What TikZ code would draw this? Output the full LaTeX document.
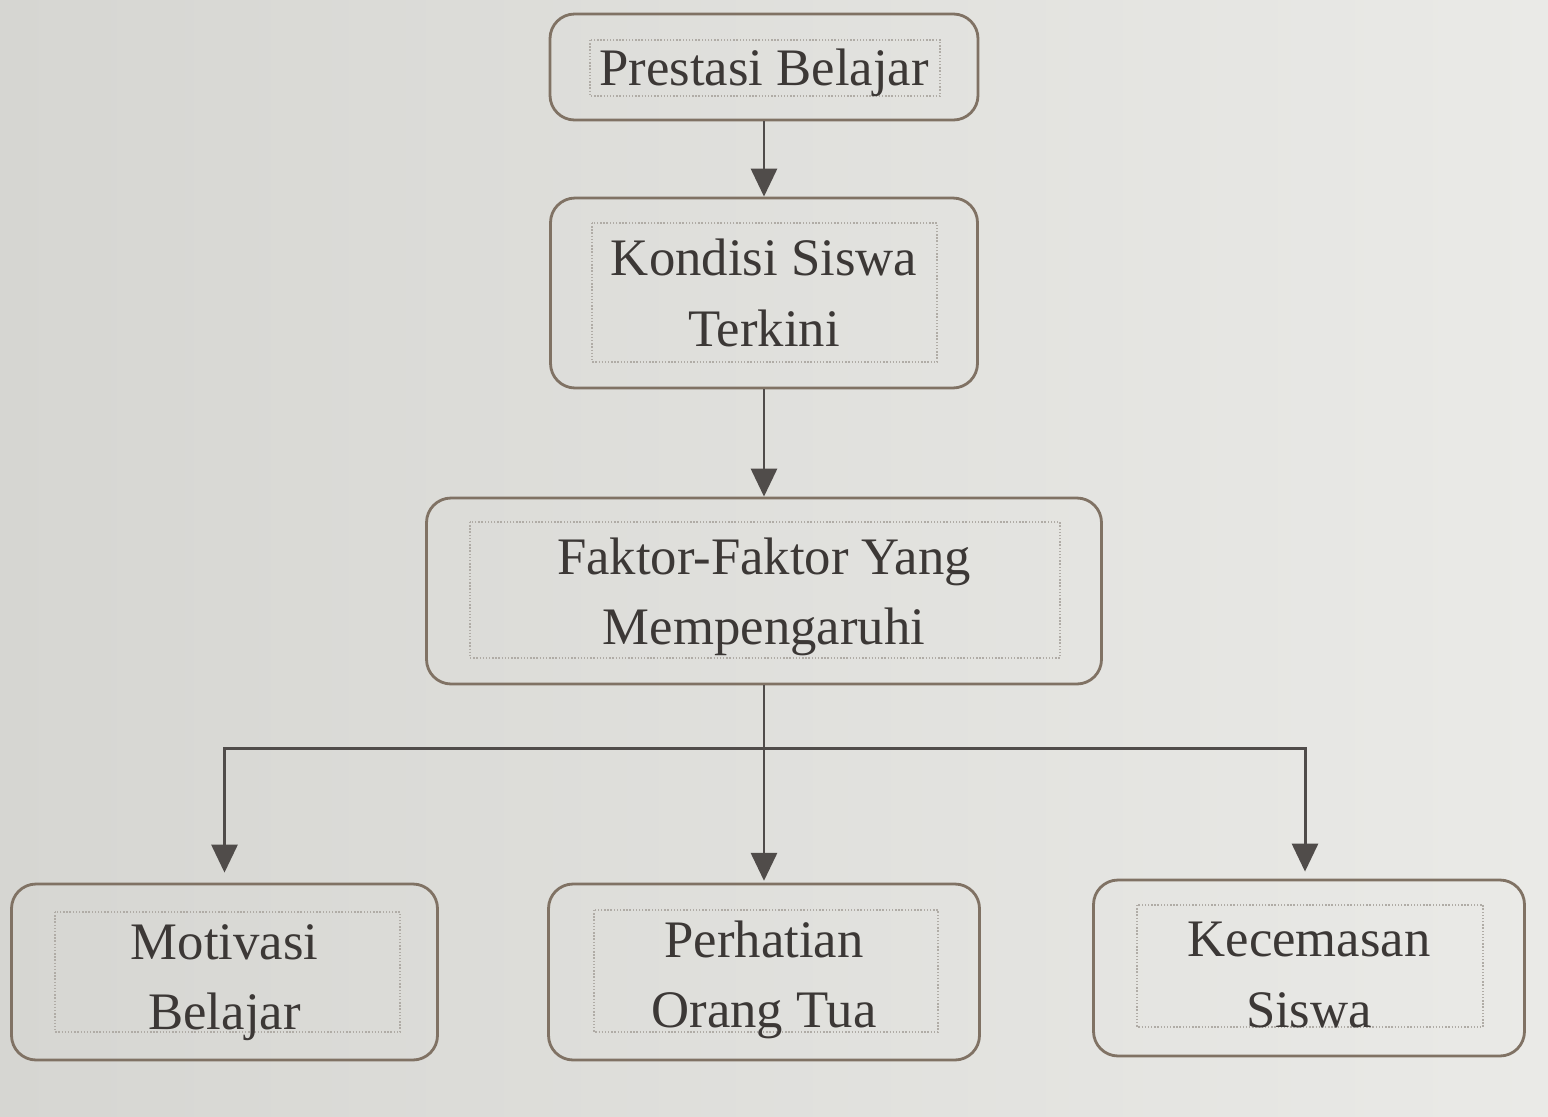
\documentclass[tikz,border=0pt]{standalone}
\usepackage{fontspec}
\setmainfont{Liberation Serif}
\usepackage{xcolor}
\usetikzlibrary{arrows.meta}

\definecolor{paperleft}{RGB}{214,214,210}
\definecolor{paperright}{RGB}{234,234,231}
\definecolor{boxline}{RGB}{128,114,100}
\definecolor{innerline}{RGB}{176,172,166}
\definecolor{ink}{RGB}{60,56,54}

\newcommand{\droptext}[1]{\rule{0pt}{#1}}

\begin{document}
\begin{tikzpicture}[
    box/.style={draw=boxline, line width=1.6pt, rounded corners=14pt,
        inner sep=0pt, align=center, text=ink,
        font=\fontsize{30}{40}\selectfont},
    inner/.style={draw=innerline, line width=0.8pt, densely dotted},
    link/.style={draw=ink!90, line width=1.7pt,
        -{Triangle[length=0.56cm, width=0.52cm]}}]
\shade[left color=paperleft, right color=paperright] (0,0) rectangle (30.96,-22.34);
\useasboundingbox (0,0) rectangle (30.96,-22.34);
% inner text frames
\draw[inner] (11.8,-0.80) rectangle (18.8,-1.92);
\draw[inner] (11.84,-4.46) rectangle (18.74,-7.24);
\draw[inner] (9.40,-10.44) rectangle (21.20,-13.16);
\draw[inner] (1.10,-18.24) rectangle (8.00,-20.64);
\draw[inner] (11.88,-18.20) rectangle (18.76,-20.64);
\draw[inner] (22.74,-18.10) rectangle (29.66,-20.54);
% boxes
\node[box, minimum width=8.56cm, minimum height=2.12cm] (prestasi)
      at (15.28,-1.34) {\droptext{27.5pt}Prestasi Belajar};
\node[box, minimum width=8.54cm, minimum height=3.80cm] (kondisi)
      [below of=prestasi, node distance=4.52cm] {Kondisi Siswa\\Terkini};
\node[box, minimum width=13.5cm, minimum height=3.72cm] (faktor)
      [below of=kondisi, node distance=5.96cm] {\droptext{27.5pt}Faktor-Faktor Yang\\Mempengaruhi};
\node[box, minimum width=8.62cm, minimum height=3.52cm] (perhatian)
      [below of=faktor, node distance=7.62cm] {\droptext{30pt}Perhatian\\Orang Tua};
\node[box, minimum width=8.52cm, minimum height=3.52cm] (motivasi)
      [left of=perhatian, node distance=10.79cm] {\droptext{32pt}Motivasi\\Belajar};
\node[box, minimum width=8.62cm, minimum height=3.52cm, yshift=0.08cm] (kecemasan)
      [right of=perhatian, node distance=10.9cm] {\droptext{27.5pt}Kecemasan\\Siswa};
% connectors
\coordinate (split) at (15.28,-14.96);
\draw[link] (prestasi) -- (kondisi);
\draw[link] (kondisi) -- (faktor);
\draw[link, shorten >=1pt] (faktor) -- (perhatian);
\draw[link, shorten >=0.2cm] (split) -| (motivasi.north);
\draw[link, shorten >=0.14cm] (split) -| ([xshift=-0.08cm]kecemasan.north);
\end{tikzpicture}
\end{document}
